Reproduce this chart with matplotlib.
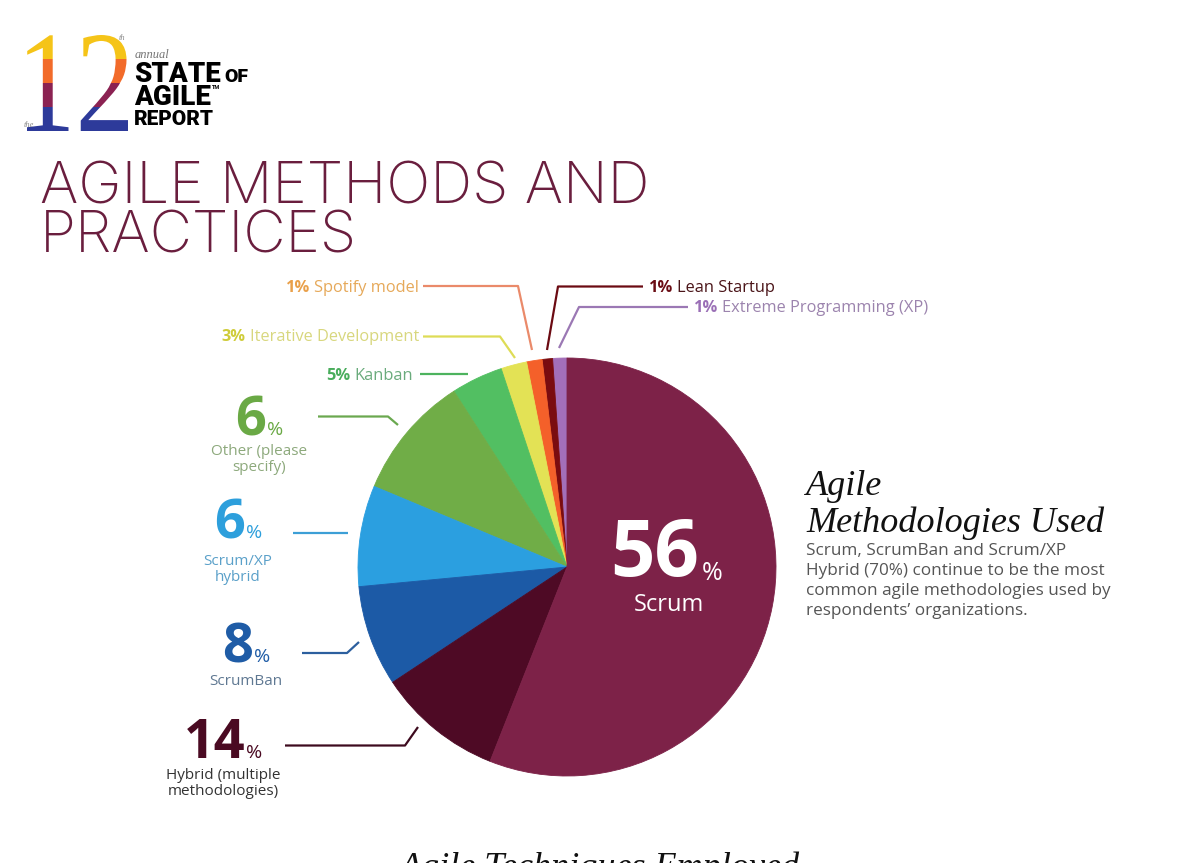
import numpy as np
import matplotlib
matplotlib.use("Agg")
import matplotlib.pyplot as plt
from matplotlib.textpath import TextPath
from matplotlib.patches import PathPatch
from matplotlib.font_manager import FontProperties
from matplotlib.transforms import Affine2D

# slices, counter-clockwise from 12 o'clock (as drawn in the picture)
methods = ["Extreme Programming (XP)", "Lean Startup", "Spotify model",
           "Iterative Development", "Kanban", "Other (please specify)",
           "Scrum/XP hybrid", "ScrumBan", "Hybrid (multiple methodologies)", "Scrum"]
shares = [1.1, 0.8, 1.2, 2.0, 4.0, 9.6, 7.8, 7.8, 9.7, 56.0]   # slice sizes
labels_pct = ["1%", "1%", "1%", "3%", "5%", "6", "6", "8", "14", "56"]
slice_colors = ["#a36fb9", "#7a0c10", "#f4602a", "#e3e255", "#52bf62",
                "#70ad47", "#2b9fe0", "#1c5aa6", "#4e0a25", "#7d2248"]

plt.rcParams['font.family'] = ['Open Sans', 'DejaVu Sans']

W, H = 1200, 863
fig = plt.figure(figsize=(12, 8.63), dpi=100)
fig.patch.set_facecolor('white')

# pie axes: centre (567,567) px, radius 209 px
cx, cy, R = 567, 567, 209
pax = fig.add_axes([(cx - R) / W, 1 - (cy + R) / H, 2 * R / W, 2 * R / H])
wedges, _ = pax.pie(shares, colors=slice_colors, startangle=90, counterclock=True,
                    radius=1, wedgeprops=dict(linewidth=0.6))
for w in wedges:
    w.set_edgecolor(w.get_facecolor())
pax.set_xlim(-1, 1)
pax.set_ylim(-1, 1)
pax.axis('off')

# overlay in pixel coordinates
ax = fig.add_axes([0, 0, 1, 1])
ax.set_facecolor('none')
ax.axis('off')

fig.canvas.draw()
r = fig.canvas.get_renderer()


def tw(t):
    return t.get_window_extent(renderer=r).width


def pct_label(x, y, pct, rest, c1, c2, align='left'):
    # bold percentage followed by regular text, on one baseline
    if align == 'left':
        a = ax.text(x, y, pct, color=c1, fontsize=11.8, fontweight='bold', va='baseline', ha='left')
        ax.text(x + tw(a) + 4, y, rest, color=c2, fontsize=11.8, va='baseline', ha='left')
    else:
        b = ax.text(x, y, rest, color=c2, fontsize=11.8, va='baseline', ha='right')
        ax.text(x - tw(b) - 4, y, pct, color=c1, fontsize=11.8, fontweight='bold', va='baseline', ha='right')


def big_label(xc, y, num, color, lines, ty, tcolor, size=39):
    n = ax.text(0, y, num, color=color, fontsize=size, fontweight='bold', va='baseline', ha='left')
    p = ax.text(0, y, "%", color=color, fontsize=14, va='baseline', ha='left')
    total = tw(n) + 1 + tw(p)
    x0 = xc - total / 2
    n.set_x(x0)
    p.set_x(x0 + tw(n) + 1)
    for i, ln in enumerate(lines):
        ax.text(xc, ty + i * 15.5, ln, color=tcolor, fontsize=11, va='baseline', ha='center')


def leader(xs, ys, color):
    ax.plot(xs, ys, color=color, lw=1.6, solid_capstyle='butt')


# top-right small labels
pct_label(419, 292, labels_pct[2], "Spotify model", "#e9a04a", "#e6a95a", 'right')
leader([423, 518, 532], [286, 286, 350], "#ea8a6a")
pct_label(419, 341, labels_pct[3], "Iterative Development", "#cfcc3a", "#d8d77e", 'right')
leader([423, 500, 515], [336.5, 336.5, 358], "#dedc56")
pct_label(413, 380, labels_pct[4], "Kanban", "#49ad5c", "#6aab7c", 'right')
leader([420, 468], [374, 374], "#4db35e")
pct_label(649, 291.5, labels_pct[1], "Lean Startup", "#6a0c14", "#4a1418")
leader([643, 558, 547], [286.5, 286.5, 350], "#6b0a12")
pct_label(694, 311.5, labels_pct[0], "Extreme Programming (XP)", "#9a6fb6", "#9c84ae")
leader([688, 579, 559], [307, 307, 348], "#9b78b4")

# left big labels
big_label(259, 435, labels_pct[5], "#6aa945", ["Other (please", "specify)"], 455, "#8da97c")
leader([318, 388, 398], [416.5, 416.5, 425], "#6aa84f")
big_label(238, 538, labels_pct[6], "#2d9fdc", ["Scrum/XP", "hybrid"], 565, "#5aa0c9")
leader([293, 348], [533, 533], "#3c9fd6")
big_label(246, 662, labels_pct[7], "#1f5ca6", ["ScrumBan"], 685, "#5f7892")
leader([302, 347, 359], [653, 653, 642], "#2c5f9e")
big_label(223, 758, labels_pct[8], "#4a0a22", ["Hybrid (multiple", "methodologies)"], 779, "#333333")
leader([285, 405, 418], [745.5, 745.5, 727], "#3d0a1e")

# centre of the Scrum slice
n = ax.text(610, 576, labels_pct[9], color='white', fontsize=56, fontweight='bold', va='baseline', ha='left')
ax.text(610 + tw(n) + 3, 580, "%", color='white', fontsize=18, va='baseline', ha='left')
ax.text(669, 611, "Scrum", color='white', fontsize=17, va='baseline', ha='center')

# title
title_c = "#6a1e3e"
title_font = ['Inter', 'Open Sans', 'DejaVu Sans']
ax.text(40, 203, "AGILE METHODS AND", family=title_font, color=title_c, fontsize=42,
        fontweight='light', va='baseline')
ax.text(40, 252, "PRACTICES", family=title_font, color=title_c, fontsize=42,
        fontweight='light', va='baseline')

# right-hand description
serif = ['Liberation Serif', 'DejaVu Serif']
ax.text(806, 495, "Agile", family=serif, style='italic', fontsize=26, color='#111111', va='baseline')
ax.text(806, 532, "Methodologies Used", family=serif, style='italic', fontsize=26, color='#111111', va='baseline')
body = ["Scrum, ScrumBan and Scrum/XP", "Hybrid (70%) continue to be the most",
        "common agile methodologies used by", "respondents\u2019 organizations."]
for i, ln in enumerate(body):
    ax.text(806, 555 + 20 * i, ln, color='#555555', fontsize=12.3, va='baseline')

# cut-off heading at the bottom edge
ax.text(400, 851, "Agile Techniques Employed", family=serif, style='italic', fontsize=26,
        color='#111111', va='top')

# logo: striped "12"
tp = TextPath((0, 0), "12", size=100, prop=FontProperties(family='Liberation Serif'))
bb = tp.get_extents()
lx0, lx1, ly0, ly1 = 27, 128, 35, 131
tr = Affine2D().translate(-bb.x0, -bb.y0).scale((lx1 - lx0) / bb.width, -(ly1 - ly0) / bb.height).translate(lx0, ly1)
patch = PathPatch(tr.transform_path(tp), facecolor='none', edgecolor='none')
ax.add_patch(patch)
stripes = np.array([[[245, 196, 24]], [[245, 196, 24]], [[242, 107, 42]], [[242, 107, 42]],
                    [[139, 34, 82]], [[139, 34, 82]], [[45, 58, 154]], [[45, 58, 154]]]) / 255
img = ax.imshow(stripes, extent=(lx0, lx1, ly1, ly0), origin='upper', aspect='auto', interpolation='nearest')
img.set_clip_path(patch)
ax.text(24, 127, "the", family=serif, style='italic', fontsize=6, color='#888888', va='baseline')
ax.text(119, 40, "th", family=serif, style='italic', fontsize=6, color='#888888', va='baseline')
ax.text(135, 58, "annual", family=serif, style='italic', fontsize=9, color='#777777', va='baseline')
logo_font = ['Roboto', 'DejaVu Sans']
s = ax.text(134, 82, "STATE", family=logo_font, fontweight='black', fontsize=20, color='black', va='baseline')
ax.text(134 + tw(s) + 4, 82, "OF", family=logo_font, fontweight='black', fontsize=14, color='black', va='baseline')
a = ax.text(134, 105, "AGILE", family=logo_font, fontweight='black', fontsize=20, color='black', va='baseline')
ax.text(134 + tw(a) + 1, 89, "TM", family=logo_font, fontweight='bold', fontsize=4, color='black', va='baseline')
ax.text(134, 125, "REPORT", family=logo_font, fontweight='black', fontsize=15, color='black', va='baseline')

ax.set_xlim(0, W)
ax.set_ylim(H, 0)

fig.savefig("out.png", dpi=100, facecolor='white')
